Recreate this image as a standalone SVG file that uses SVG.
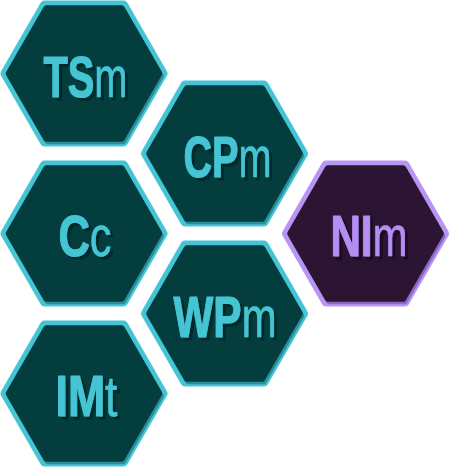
<svg xmlns="http://www.w3.org/2000/svg" width="450" height="468" viewBox="0 0 450 468">
<style>
.bg{fill:#ffffff}
.o{stroke-width:9;stroke-linejoin:round}
.i{stroke-width:6;stroke-linejoin:round}
.teal .o{fill:#45c4d4;stroke:#45c4d4}
.teal .d{fill:#2a8f9a;stroke:#2a8f9a}
.teal .f{fill:#033d3e;stroke:#033d3e}
.teal .t{fill:#45c4d4;stroke:#45c4d4;filter:url(#shT)}
.purp .o{fill:#b895f5;stroke:#b895f5}
.purp .d{fill:#8a69c6;stroke:#8a69c6}
.purp .f{fill:#2c1433;stroke:#2c1433}
.purp .t{fill:#b48ef2;stroke:#b48ef2;filter:url(#shP)}
text{font-family:"Liberation Sans",Arial,sans-serif;font-size:58px;font-weight:bold;text-anchor:middle;stroke-width:1.2;stroke-linejoin:round}
.r{font-weight:normal;stroke-width:0.6}
</style>
<defs>
<polygon id="hO" points="-79,0 -39.5,-68.4 39.5,-68.4 79,0 39.5,68.4 -39.5,68.4"/>
<polygon id="hI" points="-75.3,0 -37.65,-65.2 37.65,-65.2 75.3,0 37.65,65.2 -37.65,65.2"/>
<filter id="shT" x="-10%" y="-10%" width="130%" height="130%">
<feOffset in="SourceAlpha" dx="2.5" dy="2.5" result="o"/>
<feFlood flood-color="#012a2b"/><feComposite in2="o" operator="in" result="s"/>
<feMerge><feMergeNode in="s"/><feMergeNode in="SourceGraphic"/></feMerge>
</filter>
<filter id="shP" x="-10%" y="-10%" width="130%" height="130%">
<feOffset in="SourceAlpha" dx="2.5" dy="2.5" result="o"/>
<feFlood flood-color="#1a0820"/><feComposite in2="o" operator="in" result="s"/>
<feMerge><feMergeNode in="s"/><feMergeNode in="SourceGraphic"/></feMerge>
</filter>
</defs>
<rect class="bg" width="450" height="468"/>
<g id="TSm" class="teal" transform="translate(84,73.5)">
<use href="#hO" class="o"/><use href="#hI" class="i d" x="1.5" y="2.5"/><use href="#hI" class="i f"/>
<text class="t" x="1.5" y="23" textLength="84" lengthAdjust="spacingAndGlyphs">TS<tspan class="r">m</tspan></text>
</g>
<g id="Cc" class="teal" transform="translate(84,233.5)">
<use href="#hO" class="o"/><use href="#hI" class="i d" x="1.5" y="2.5"/><use href="#hI" class="i f"/>
<text class="t" x="1" y="22.5" textLength="53" lengthAdjust="spacingAndGlyphs">C<tspan class="r">c</tspan></text>
</g>
<g id="IMt" class="teal" transform="translate(84,393.5)">
<use href="#hO" class="o"/><use href="#hI" class="i d" x="1.5" y="2.5"/><use href="#hI" class="i f"/>
<text class="t" x="2.5" y="22.5" textLength="62" lengthAdjust="spacingAndGlyphs">IM<tspan class="r">t</tspan></text>
</g>
<g id="CPm" class="teal" transform="translate(224.5,153.5)">
<use href="#hO" class="o"/><use href="#hI" class="i d" x="1.5" y="2.5"/><use href="#hI" class="i f"/>
<text class="t" x="3" y="23" textLength="88" lengthAdjust="spacingAndGlyphs">CP<tspan class="r">m</tspan></text>
</g>
<g id="WPm" class="teal" transform="translate(224.5,313.5)">
<use href="#hO" class="o"/><use href="#hI" class="i d" x="1.5" y="2.5"/><use href="#hI" class="i f"/>
<text class="t" x="0.5" y="23" textLength="103" lengthAdjust="spacingAndGlyphs">WP<tspan class="r">m</tspan></text>
</g>
<g id="NIm" class="purp" transform="translate(365.5,233.5)">
<use href="#hO" class="o"/><use href="#hI" class="i d" x="1.5" y="2.5"/><use href="#hI" class="i f"/>
<text class="t" x="3.5" y="22.5" textLength="77" lengthAdjust="spacingAndGlyphs">NI<tspan class="r">m</tspan></text>
</g>
</svg>
